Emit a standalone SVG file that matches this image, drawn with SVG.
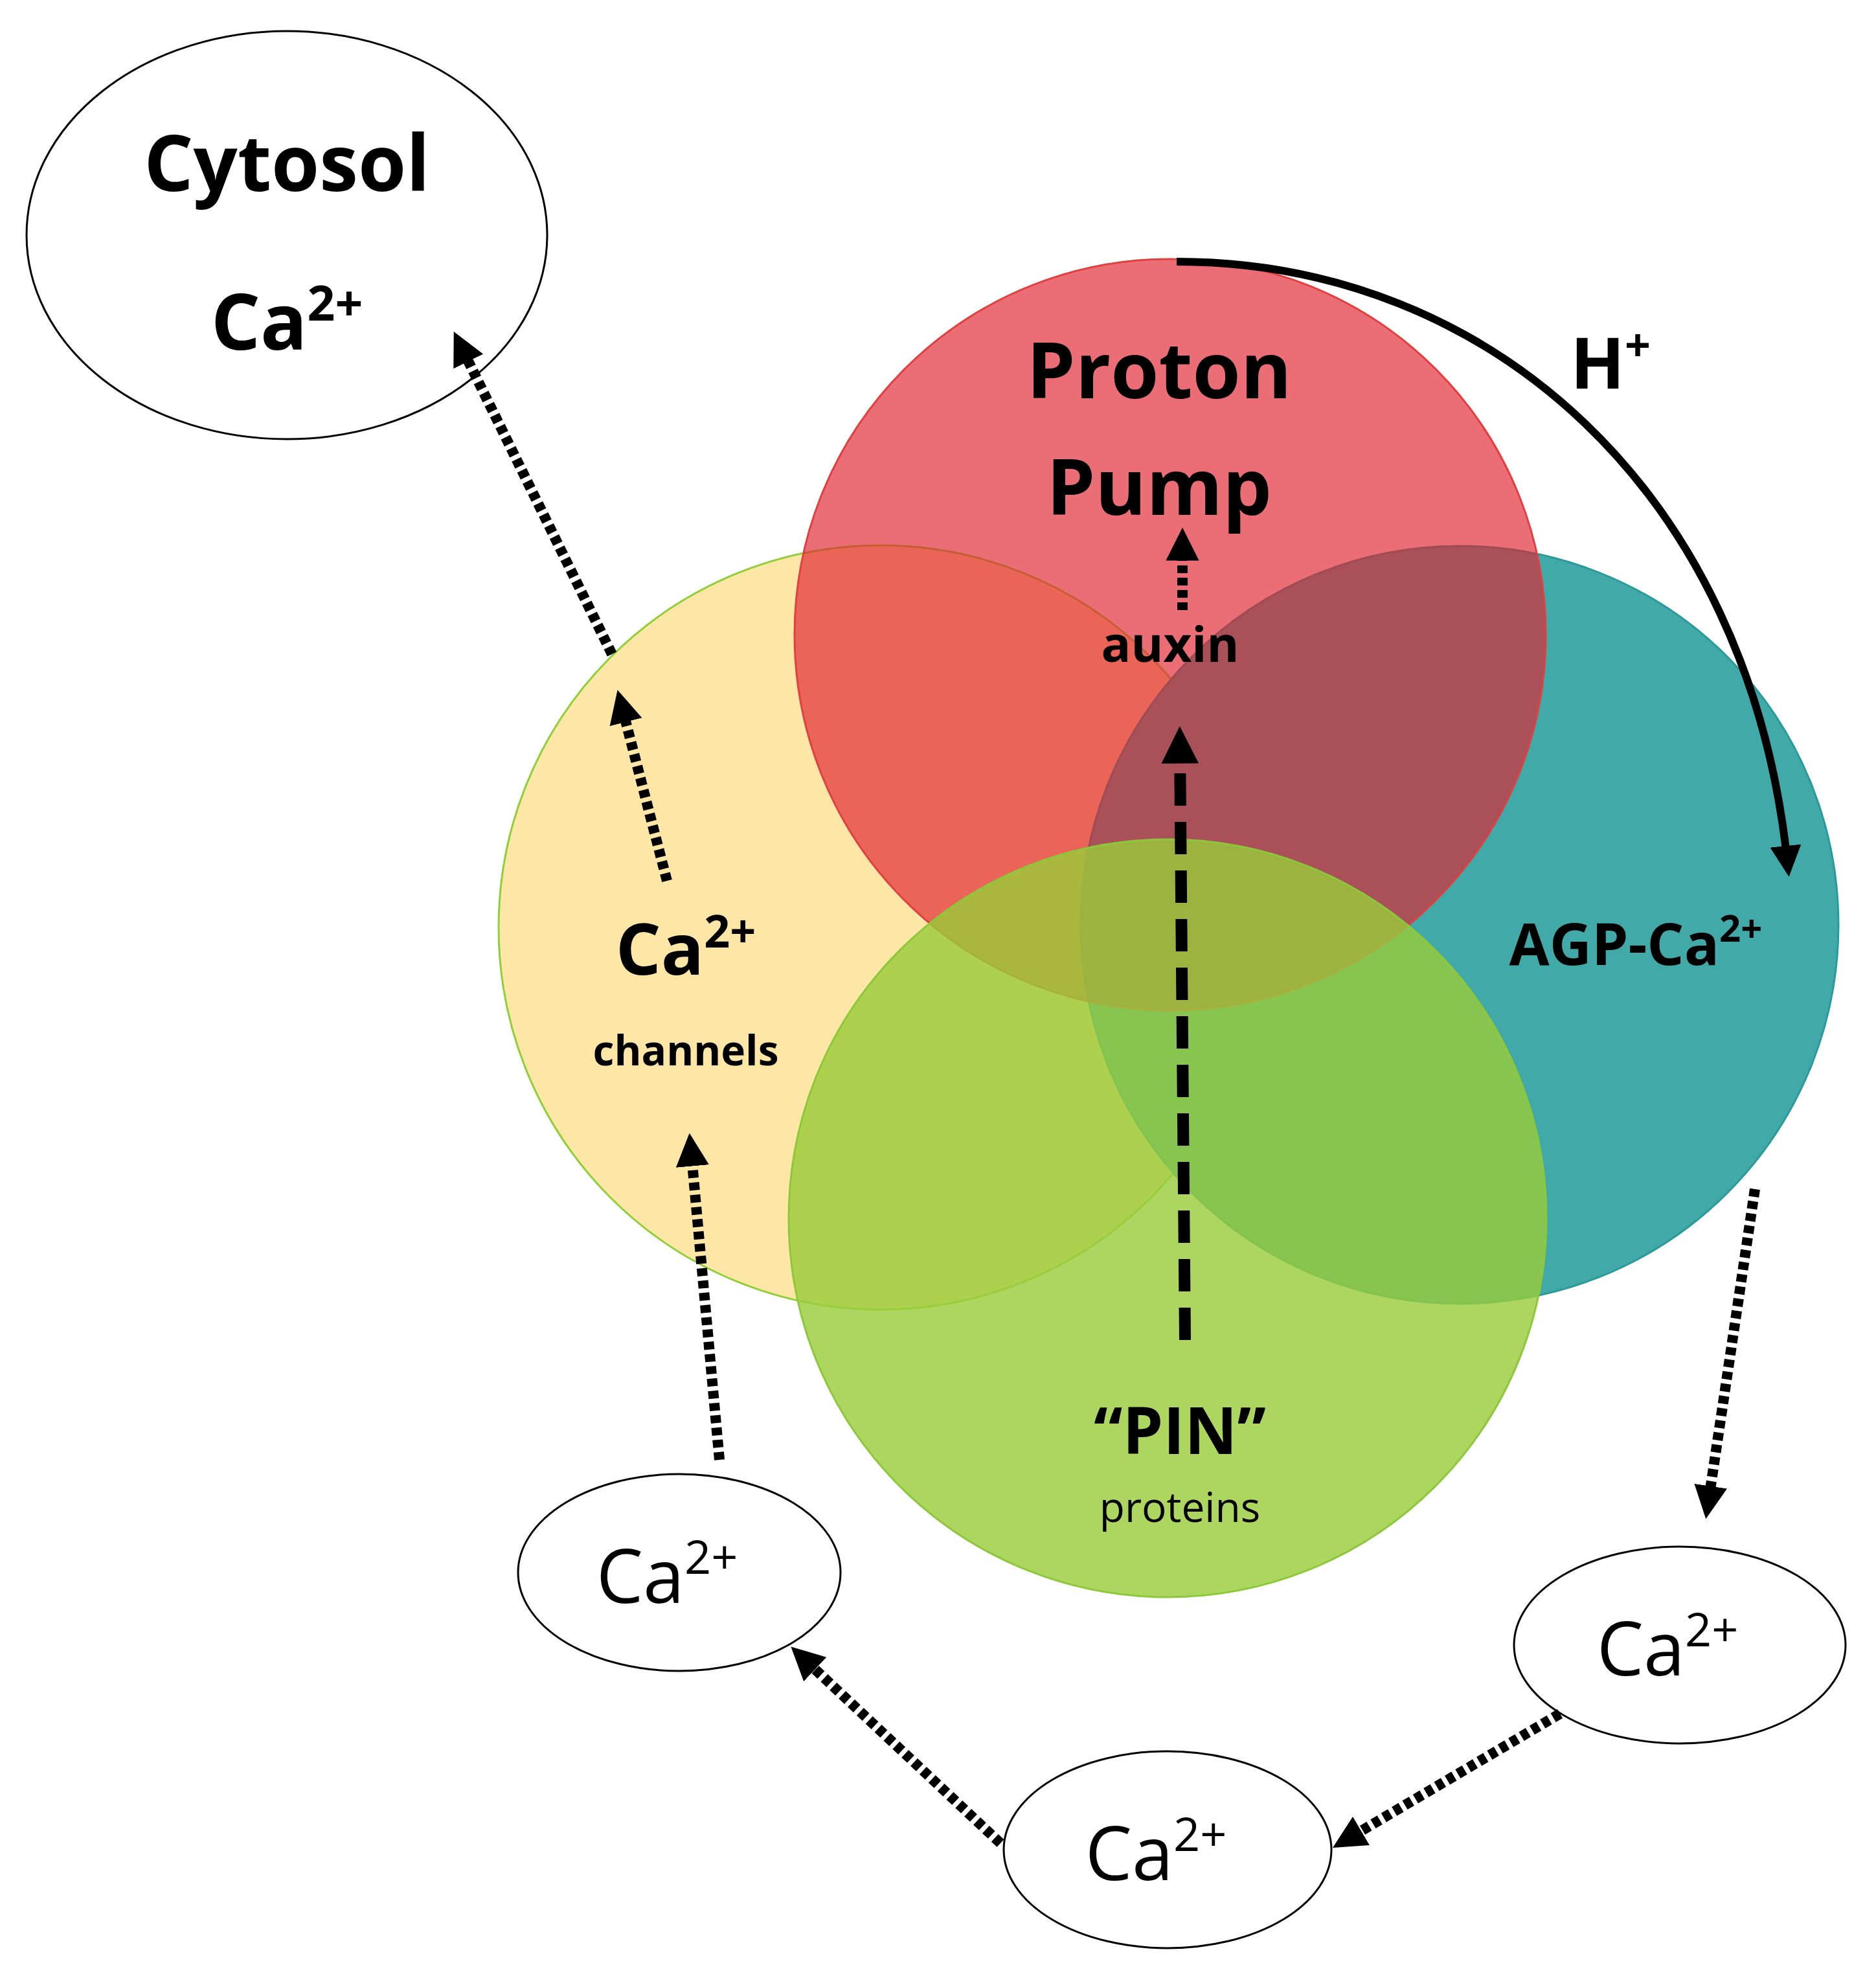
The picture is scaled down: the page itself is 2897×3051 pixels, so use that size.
<svg xmlns="http://www.w3.org/2000/svg" width="2897" height="3051" viewBox="0 0 2897 3051">
<style>
.t{font-family:"Open Sans","Liberation Sans",sans-serif;fill:#000;text-anchor:middle}
.b{font-weight:bold}
.e{fill:#fff;stroke:#000;stroke-width:3}
.d{fill:none;stroke:#000;stroke-width:16;stroke-dasharray:12 7;marker-end:url(#ah)}
</style>
<defs>
<marker id="ah" viewBox="0 0 10 10" refX="5" refY="5" markerWidth="3.2" markerHeight="3.2" orient="auto" markerUnits="strokeWidth"><path d="M0,0L10,5L0,10z" fill="#000"/></marker>
<marker id="ah2" viewBox="0 0 10 10" refX="5" refY="5" markerWidth="4" markerHeight="4" orient="auto" markerUnits="strokeWidth"><path d="M0,0L10,5L0,10z" fill="#000"/></marker>
</defs>
<rect width="2897" height="3051" fill="#fff"/>
<g id="cytosol"><ellipse class="e" cx="443" cy="363" rx="402" ry="315"/>
<text class="t b" x="443" y="295" font-size="120">Cytosol</text>
<text class="t b" x="443" y="540" font-size="120">Ca<tspan font-size="75" dy="-45">2+</tspan></text></g>
<g id="venn">
<circle id="channels" cx="1360" cy="1432" r="590" fill="#fde6a6" stroke="#8fcf3a" stroke-width="3"/>
<circle id="agp" cx="2254" cy="1428" r="585" fill="#42a9a9" stroke="#2a9a9a" stroke-width="3"/>
<circle id="proton" cx="1807" cy="980" r="580" fill="#e0202e" fill-opacity="0.65" stroke="#e04040" stroke-width="3"/>
<circle id="pin" cx="1803" cy="1881" r="585" fill="#98cc3a" fill-opacity="0.8" stroke="#8cc83a" stroke-width="3"/>
</g>
<g id="labels">
<text class="t b" x="1790" y="615" font-size="120">Proton</text>
<text class="t b" x="1790" y="795" font-size="120">Pump</text>
<text class="t b" x="1807" y="1022" font-size="76">auxin</text>
<text class="t b" x="1059" y="1505" font-size="110">Ca<tspan font-size="70" dy="-42">2+</tspan></text>
<text class="t b" x="1059" y="1645" font-size="64">channels</text>
<text class="t b" x="2526" y="1490" font-size="90">AGP-Ca<tspan font-size="58" dy="-36">2+</tspan></text>
<text class="t b" x="2487" y="600" font-size="110">H<tspan font-size="70" dy="-42">+</tspan></text>
<text class="t b" x="1822" y="2245" font-size="100">“PIN”</text>
<text class="t" x="1822" y="2350" font-size="64">proteins</text>
</g>
<g id="ca1"><ellipse class="e" cx="1049" cy="2428" rx="249" ry="152"/><text class="t" x="1030" y="2475" font-size="115">Ca<tspan font-size="72" dy="-45">2+</tspan></text></g>
<g id="ca2"><ellipse class="e" cx="2594" cy="2540" rx="256" ry="152"/><text class="t" x="2575" y="2587" font-size="115">Ca<tspan font-size="72" dy="-45">2+</tspan></text></g>
<g id="ca3"><ellipse class="e" cx="1803" cy="2856" rx="253" ry="152"/><text class="t" x="1785" y="2903" font-size="115">Ca<tspan font-size="72" dy="-45">2+</tspan></text></g>
<g id="connectors">
<path class="d" d="M1030,1360L960,1090"/>
<path class="d" d="M945,1010L712,535" stroke-width="18"/>
<path class="d" d="M1826,942L1826,840"/>
<path d="M1830,2069L1822,1150" fill="none" stroke="#000" stroke-width="18" stroke-dasharray="50 25" marker-end="url(#ah)"/>
<path d="M1817,404C2300,404 2700,760 2760,1330" fill="none" stroke="#000" stroke-width="12" marker-end="url(#ah2)"/>
<path class="d" d="M2710,1836L2638,2320"/>
<path class="d" d="M2409,2646L2080,2840"/>
<path class="d" d="M1545,2846L1240,2560"/>
<path class="d" d="M1111,2254L1067,1775"/>
</g>
</svg>
